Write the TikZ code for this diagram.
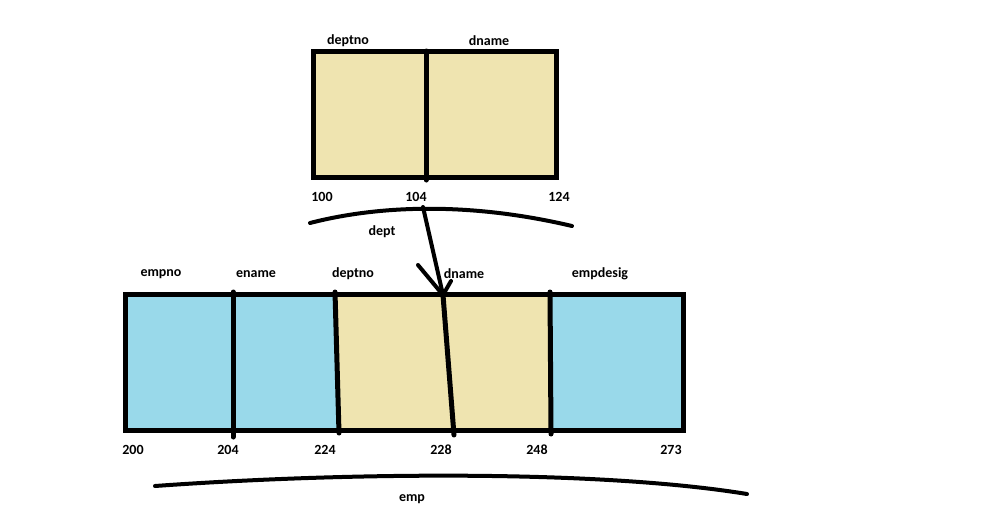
\documentclass[tikz,border=0pt]{standalone}
\usepackage{fontspec}
\setmainfont{Carlito}
\usepackage{tikz}
\usetikzlibrary{positioning}
\definecolor{tanfill}{RGB}{239,228,176}
\definecolor{bluefill}{RGB}{153,217,234}

\begin{document}
\begin{tikzpicture}[x=1pt, y=-1pt,
  lbl/.style={font=\fontsize{14}{16}\selectfont\bfseries, inner sep=0pt},
  thick line/.style={line width=5pt, line cap=round},
  hand/.style={line width=4pt, line cap=round}]
 \useasboundingbox (0,0) rectangle (1008,530);
 % dept table
 \coordinate (d-tl) at (313,51);
 \coordinate (d-br) at (556,177);
 \fill[tanfill] (d-tl) rectangle (d-br);
 \draw[line width=5pt] (d-tl) rectangle (d-br);
 \coordinate (d-top) at (426,51);
 \coordinate (d-bot) at (426,180);
 \draw[thick line] (d-top) -- (d-bot);
 \node[lbl] (d-deptno) at (348,41) {deptno};
 \node[lbl] (d-dname) at (489,41) {dname};
 \node[lbl] (d-100) at (322,197) {100};
 \node[lbl] (d-104) at (416,197) {104};
 \node[lbl] (d-124) at (559,197) {124};
 \coordinate (dc-a) at (310,223);
 \coordinate (dc-b) at (572,226);
 \draw[hand] (dc-a) .. controls (380,205) and (470,202) .. (dc-b);
 \node[lbl] (dept) at (382,232) {dept};

 % emp table
 \coordinate (e-tl) at (125,294);
 \coordinate (e-br) at (683,430);
 \fill[bluefill] (e-tl) rectangle (e-br);
 \fill[tanfill] (335,294) -- (551,294) -- (551,430) -- (339,430) -- cycle;
 \draw[line width=5pt] (e-tl) rectangle (e-br);
 \coordinate (e1-top) at (233,292);  \coordinate (e1-bot) at (233,437);
 \coordinate (e2-top) at (335,292);  \coordinate (e2-bot) at (339,433);
 \coordinate (e3-top) at (443,295);  \coordinate (e3-bot) at (454,435);
 \coordinate (e4-top) at (550,292);  \coordinate (e4-bot) at (551,434);
 \foreach \i in {1,...,4}
  \draw[thick line] (e\i-top) -- (e\i-bot);
 \node[lbl] (e-empno) at (161,274) {empno};
 \node[lbl] (e-ename) at (256,274) {ename};
 \node[lbl] (e-deptno) at (353,274) {deptno};
 \node[lbl] (e-dname) at (464,274) {dname};
 \node[lbl] (e-empdesig) at (600,274) {empdesig};
 \node[lbl] (e-200) at (133,450) {200};
 \node[lbl] (e-204) at (228,450) {204};
 \node[lbl] (e-224) at (325,450) {224};
 \node[lbl] (e-228) at (441,450) {228};
 \node[lbl] (e-248) at (537,450) {248};
 \node[lbl] (e-273) at (671,450) {273};
 \coordinate (ec-a) at (155,486);
 \coordinate (ec-b) at (747,494);
 \draw[hand] (ec-a) .. controls (350,472) and (600,470) .. (ec-b);
 \node[lbl] (emp) at (412,499) {emp};

 % reference from dept to emp
 \coordinate (ref-start) at (423,207);
 \coordinate (wing-l) at (418,265);
 \coordinate (wing-r) at (451,281);
 \draw[hand] (ref-start) -- (e3-top);
 \draw[hand] (wing-l) -- (e3-top) -- (wing-r);
\end{tikzpicture}
\end{document}
